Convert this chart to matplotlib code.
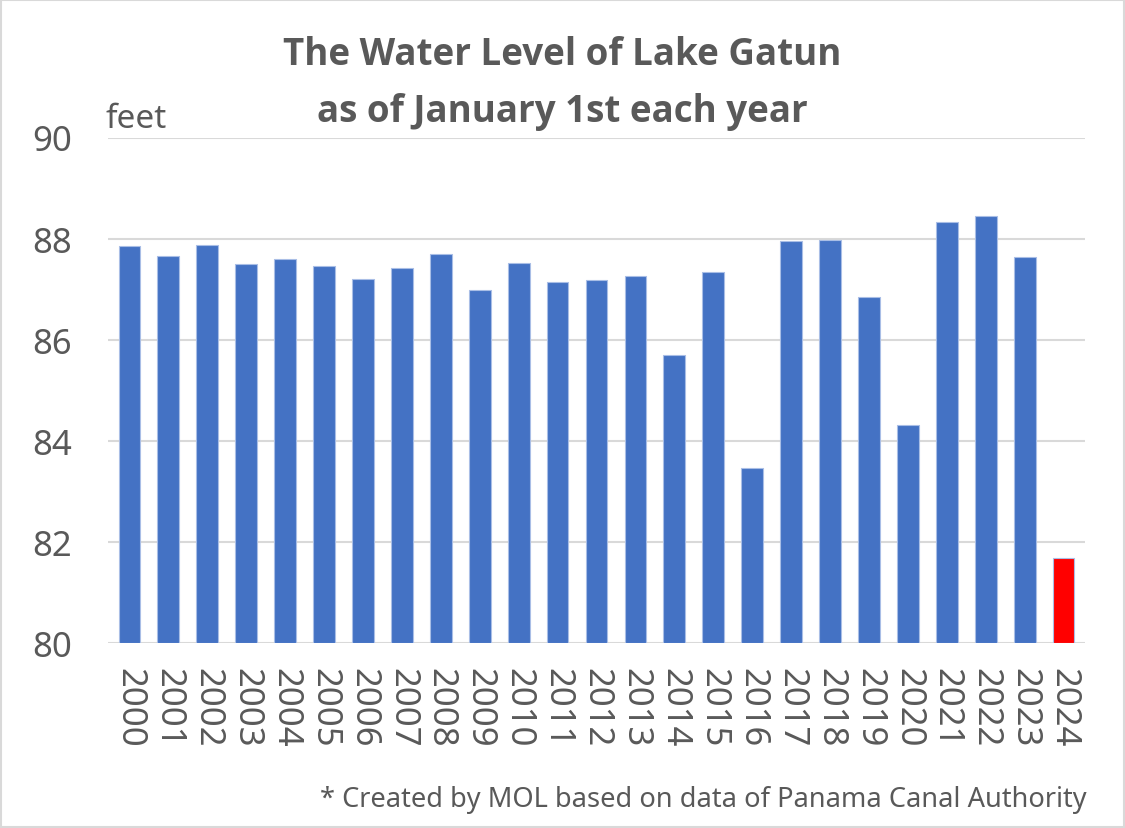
import matplotlib.pyplot as plt
from matplotlib.patches import Rectangle

# data
years = [str(y) for y in range(2000, 2025)]
levels = [87.86, 87.66, 87.88, 87.50, 87.60, 87.46, 87.20, 87.42, 87.69, 86.98,
          87.52, 87.14, 87.19, 87.26, 85.70, 87.34, 83.47, 87.96, 87.98, 86.85,
          84.32, 88.33, 88.45, 87.63, 81.68]
yticks = [80, 82, 84, 86, 88, 90]

blue = '#4472C4'
red = '#FF0000'
grey = '#595959'

plt.rcParams['font.family'] = ['Noto Sans', 'DejaVu Sans']

fig = plt.figure(figsize=(11.25, 8.29), dpi=100)
ax = fig.add_axes([108 / 1125, 1 - 644 / 829, (1085 - 108) / 1125, (644 - 138.5) / 829])

colors = [blue] * (len(years) - 1) + [red]
ax.bar(range(len(years)), [v - 80 for v in levels], bottom=80, width=0.56,
       color=colors, edgecolor='#A9BEE6', linewidth=0.8, zorder=3)

ax.set_ylim(80, 90)
ax.set_xlim(-0.55, len(years) - 0.45)
ax.set_yticks(yticks)
ax.set_yticklabels([str(t) for t in yticks], fontsize=25, color=grey)
ax.set_xticks(range(len(years)))
ax.set_xticklabels(years, rotation=270, fontsize=25, color=grey)
ax.tick_params(length=0)
ax.tick_params(axis='y', pad=26)
ax.tick_params(axis='x', pad=17)
ax.grid(axis='y', color='#D9D9D9', linewidth=1.5, zorder=0)
for s in ax.spines.values():
    s.set_visible(False)

title_font = dict(family=['Open Sans', 'DejaVu Sans'], fontweight='bold', fontsize=26.5, color=grey)
fig.text(0.5, 1 - 55 / 829, 'The Water Level of Lake Gatun', ha='center', va='center', **title_font)
fig.text(0.5, 1 - 112 / 829, 'as of January 1st each year', ha='center', va='center', **title_font)
fig.text(106 / 1125, 1 - 120 / 829, 'feet', ha='left', va='center', fontsize=24, color=grey)
fig.text(1087 / 1125, 1 - 800 / 829, '* Created by MOL based on data of Panama Canal Authority',
         ha='right', va='center', fontsize=19.6, color=grey)

fig.patches.append(Rectangle((0.001, 0.001), 0.998, 0.998, transform=fig.transFigure,
                             fill=False, edgecolor='#D9D9D9', linewidth=1.5))

fig.savefig('out.png', dpi=100)
